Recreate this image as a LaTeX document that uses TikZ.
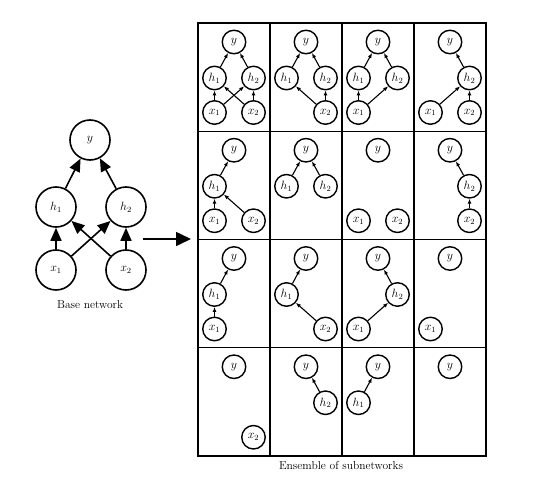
\documentclass[tikz,border=0pt]{standalone}
\usetikzlibrary{arrows.meta}
\tikzset{
  bn/.style={circle, draw, line width=1.6pt, minimum size=40pt, inner sep=0pt, font=\fontsize{11.5}{13}\selectfont},
  sn/.style={circle, draw, line width=1.4pt, minimum size=23.5pt, inner sep=0pt, font=\fontsize{11.8}{13}\selectfont},
  ba/.style={line width=1.6pt, -{Triangle[length=13pt,width=11pt]}},
  bigarr/.style={line width=1.6pt, -{Triangle[length=15pt,width=14pt]}},
  sa/.style={line width=1.1pt, -{Latex[length=5pt,width=4pt]}},
  gl/.style={line width=1.3pt},
  captext/.style={font=\fontsize{11.5}{13}\selectfont},
}
\newcommand\SNy{\node[sn] (y) at (36,19) {$y$};}
\newcommand\SNha{\node[sn] (h1) at (16.5,55) {$h_1$};}
\newcommand\SNhb{\node[sn] (h2) at (55.5,55) {$h_2$};}
\newcommand\SNxa{\node[sn] (x1) at (16.5,89.5) {$x_1$};}
\newcommand\SNxb{\node[sn] (x2) at (55.5,89.5) {$x_2$};}
\newcommand\SNe[2]{\draw[sa] (#1) -- (#2);}
\begin{document}
\begin{tikzpicture}[x=1pt,y=-1pt]
\useasboundingbox (0,0) rectangle (546,479);
% base network
\node[bn] (by) at (90,140) {$y$};
\node[bn] (bh1) at (56,207) {$h_1$};
\node[bn] (bh2) at (126,207) {$h_2$};
\node[bn] (bx1) at (56,270) {$x_1$};
\node[bn] (bx2) at (126,270) {$x_2$};
\draw[ba] (bx1) -- (bh1);
\draw[ba] (bx2) -- (bh2);
\draw[ba] (bx1) -- (bh2);
\draw[ba] (bx2) -- (bh1);
\draw[ba] (bh1) -- (by);
\draw[ba] (bh2) -- (by);
\node[captext] (bcap) at (90,305) {Base network};
% big arrow
\coordinate (aS) at (143,239);
\coordinate (aE) at (191,239);
\draw[bigarr] (aS) -- (aE);
% grid
\draw[gl] (198,23) rectangle (486,456);
\draw[gl] (270,23) -- (270,456);
\draw[gl] (342,23) -- (342,456);
\draw[gl] (414,23) -- (414,456);
\draw[gl] (198,131.25) -- (486,131.25);
\draw[gl] (198,239.5) -- (486,239.5);
\draw[gl] (198,347.75) -- (486,347.75);
\node[captext] (ecap) at (341,466) {Ensemble of subnetworks};
% row 1
\begin{scope}[shift={(198,23)}, name prefix=c11-]
\SNy\SNha\SNhb\SNxa\SNxb
\SNe{x1}{h1}\SNe{x2}{h2}\SNe{x1}{h2}\SNe{x2}{h1}\SNe{h1}{y}\SNe{h2}{y}
\end{scope}
\begin{scope}[shift={(270,23)}, name prefix=c12-]
\SNy\SNha\SNhb\SNxb
\SNe{x2}{h2}\SNe{x2}{h1}\SNe{h1}{y}\SNe{h2}{y}
\end{scope}
\begin{scope}[shift={(342,23)}, name prefix=c13-]
\SNy\SNha\SNhb\SNxa
\SNe{x1}{h1}\SNe{x1}{h2}\SNe{h1}{y}\SNe{h2}{y}
\end{scope}
\begin{scope}[shift={(414,23)}, name prefix=c14-]
\SNy\SNhb\SNxa\SNxb
\SNe{x1}{h2}\SNe{x2}{h2}\SNe{h2}{y}
\end{scope}
% row 2
\begin{scope}[shift={(198,131.25)}, name prefix=c21-]
\SNy\SNha\SNxa\SNxb
\SNe{x1}{h1}\SNe{x2}{h1}\SNe{h1}{y}
\end{scope}
\begin{scope}[shift={(270,131.25)}, name prefix=c22-]
\SNy\SNha\SNhb
\SNe{h1}{y}\SNe{h2}{y}
\end{scope}
\begin{scope}[shift={(342,131.25)}, name prefix=c23-]
\SNy\SNxa\SNxb
\end{scope}
\begin{scope}[shift={(414,131.25)}, name prefix=c24-]
\SNy\SNhb\SNxb
\SNe{x2}{h2}\SNe{h2}{y}
\end{scope}
% row 3
\begin{scope}[shift={(198,239.5)}, name prefix=c31-]
\SNy\SNha\SNxa
\SNe{x1}{h1}\SNe{h1}{y}
\end{scope}
\begin{scope}[shift={(270,239.5)}, name prefix=c32-]
\SNy\SNha\SNxb
\SNe{x2}{h1}\SNe{h1}{y}
\end{scope}
\begin{scope}[shift={(342,239.5)}, name prefix=c33-]
\SNy\SNhb\SNxa
\SNe{x1}{h2}\SNe{h2}{y}
\end{scope}
\begin{scope}[shift={(414,239.5)}, name prefix=c34-]
\SNy\SNxa
\end{scope}
% row 4
\begin{scope}[shift={(198,347.75)}, name prefix=c41-]
\SNy\SNxb
\end{scope}
\begin{scope}[shift={(270,347.75)}, name prefix=c42-]
\SNy\SNhb
\SNe{h2}{y}
\end{scope}
\begin{scope}[shift={(342,347.75)}, name prefix=c43-]
\SNy\SNha
\SNe{h1}{y}
\end{scope}
\begin{scope}[shift={(414,347.75)}, name prefix=c44-]
\SNy
\end{scope}
\end{tikzpicture}
\end{document}
